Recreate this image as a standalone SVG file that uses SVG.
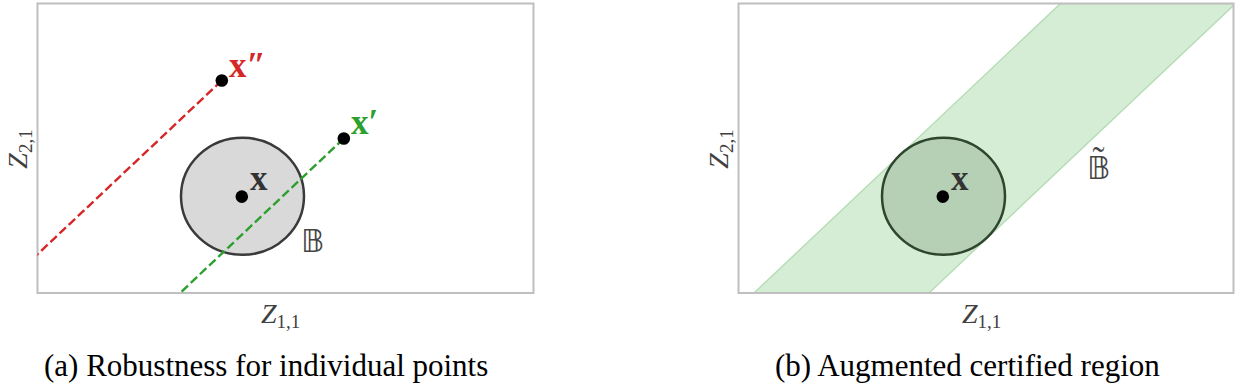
<svg xmlns="http://www.w3.org/2000/svg" width="1237" height="386" viewBox="0 0 1237 386">
  <defs>
    <style>
      .frame { fill: none; stroke: #bfbfbf; stroke-width: 2; }
      .axis { font-family: "Liberation Serif", "DejaVu Serif", serif; fill: #404040; font-size: 28px; }
      .axis .sub { font-size: 19px; font-style: normal; }
      .ds { font-family: "DejaVu Sans", "DejaVu Serif", sans-serif; fill: #444444; font-size: 32px; }
      .ds .tl { font-family: "Liberation Serif", "DejaVu Serif", serif; font-size: 36px; }
      .cap { font-family: "Liberation Serif", "DejaVu Serif", serif; fill: #000000; font-size: 31px; }
      .dash { fill: none; stroke-width: 2.4; stroke-dasharray: 8.8 3.8; }
      .dot { fill: #000000; }
      .ptlbl { font-family: "Liberation Serif", "DejaVu Serif", serif; font-weight: bold; font-size: 35px; }
    </style>
    <clipPath id="clipA"><rect x="37.5" y="3.5" width="496" height="289.5"/></clipPath>
    <clipPath id="clipB"><rect x="738.5" y="3.5" width="495" height="289.5"/></clipPath>
  </defs>

  <!-- Panel (a) -->
  <g id="panel-a">
    <rect class="frame" x="37.5" y="3.5" width="496" height="289.5"/>
    <g id="ball-a">
      <ellipse cx="242.5" cy="196.3" rx="61.5" ry="58.5" fill="#d9d9d9" stroke="#3a3a3a" stroke-width="2.5"/>
    </g>
    <g id="connectors-a" clip-path="url(#clipA)">
      <line class="dash" x1="221.8" y1="80.5" x2="20" y2="270.8" stroke="#d62728"/>
      <line class="dash" x1="343.8" y1="138.5" x2="170" y2="302.5" stroke="#2ca02c"/>
    </g>
    <g id="point-x">
      <circle class="dot" cx="241.8" cy="196.6" r="6.3"/>
      <text class="ptlbl" x="250" y="190" fill="#333333">x</text>
    </g>
    <g id="point-x2">
      <circle class="dot" cx="221.8" cy="80.5" r="6.3"/>
      <text class="ptlbl" x="229" y="77" fill="#d62728">x″</text>
    </g>
    <g id="point-x1">
      <circle class="dot" cx="343.8" cy="138.5" r="6.3"/>
      <text class="ptlbl" x="351" y="134" fill="#2ca02c">x′</text>
    </g>
    <text class="ds" x="301" y="252">𝔹</text>
    <text class="axis" x="261" y="323"><tspan font-style="italic">Z</tspan><tspan class="sub" dy="5">1,1</tspan></text>
    <text class="axis" transform="translate(27,149) rotate(-90)" text-anchor="middle"><tspan font-style="italic">Z</tspan><tspan class="sub" dy="5">2,1</tspan></text>
    <text class="cap" x="44" y="376">(a) Robustness for individual points</text>
  </g>

  <!-- Panel (b) -->
  <g id="panel-b">
    <g id="region-b" clip-path="url(#clipB)">
      <polygon points="754,293 1060.5,3.5 1235.5,3.5 929,293" fill="#d5ecd5" stroke="#b5ddb5" stroke-width="1.4"/>
    </g>
    <rect class="frame" x="738.5" y="3.5" width="495" height="289.5"/>
    <g id="ball-b">
      <ellipse cx="943.5" cy="196.3" rx="61.5" ry="58.5" fill="#b6d0b6" stroke="#2e452e" stroke-width="2.5"/>
    </g>
    <g id="point-xb">
      <circle class="dot" cx="942.8" cy="196.6" r="6.3"/>
      <text class="ptlbl" x="951" y="190" fill="#333333">x</text>
    </g>
    <text id="btilde" class="ds" x="1087" y="179">𝔹<tspan class="tl" dx="-18" dy="-7">˜</tspan></text>
    <text class="axis" x="962" y="323"><tspan font-style="italic">Z</tspan><tspan class="sub" dy="5">1,1</tspan></text>
    <text class="axis" transform="translate(728,149) rotate(-90)" text-anchor="middle"><tspan font-style="italic">Z</tspan><tspan class="sub" dy="5">2,1</tspan></text>
    <text class="cap" x="775" y="376">(b) Augmented certified region</text>
  </g>
</svg>
